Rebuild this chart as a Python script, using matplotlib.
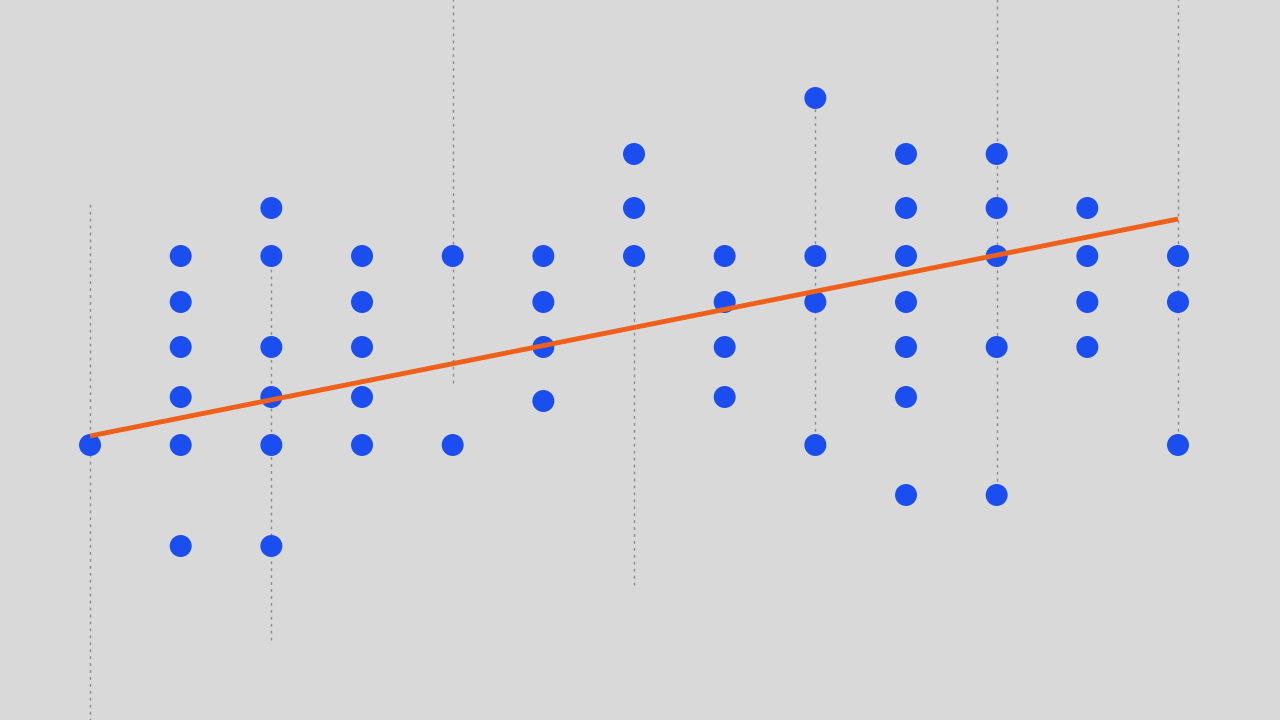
import matplotlib
matplotlib.use("Agg")
import matplotlib.pyplot as plt

# Точки по столбцам (значения читались с картинки)
columns = list(range(13))
values = [
    [0.0],
    [3.78, 2.86, 1.96, 0.96, 0.0, -2.02],
    [4.74, 3.78, 1.96, 0.96, 0.0, -2.02],
    [3.78, 2.86, 1.96, 0.96, 0.0],
    [3.78, 0.0],
    [3.78, 2.86, 1.96, 0.88],
    [5.82, 4.74, 3.78],
    [3.78, 2.86, 1.96, 0.96],
    [6.94, 3.78, 2.86, 0.0],
    [5.82, 4.74, 3.78, 2.86, 1.96, 0.96, -1.0],
    [5.82, 4.74, 3.78, 1.96, -1.0],
    [4.74, 3.78, 2.86, 1.96],
    [3.78, 2.86, 0.0],
]

# Пунктирные вертикальные отрезки
range_cols = [0, 2, 4, 6, 8, 10, 12]
range_low = [-6.0, -3.9, 1.24, -2.8, 0.0, -1.0, 0.0]
range_high = [4.84, 3.78, 9.5, 3.78, 6.94, 9.5, 9.5]

# Линия тренда
trend_x = [0, 12]
trend_y = [0.18, 4.52]

bg = "#d9d9d9"
fig = plt.figure(figsize=(12.8, 7.2), dpi=100, facecolor=bg)
ax = fig.add_axes([0, 0, 1, 1])
ax.set_facecolor(bg)

ax.vlines(range_cols, range_low, range_high, colors="#8a8a8a",
          linestyles=(0, (2, 3)), linewidth=1.0, zorder=1)

xs = [c for c, vals in zip(columns, values) for _ in vals]
ys = [v for vals in values for v in vals]
ax.scatter(xs, ys, s=250, color="#1a4ef0", edgecolors="none", zorder=2)

ax.plot(trend_x, trend_y, color="#f0601a", linewidth=3.5,
        solid_capstyle="butt", zorder=3)

ax.set_xlim(-0.993, 13.125)
ax.set_ylim(-5.5, 8.9)
ax.axis("off")

fig.savefig("out.png", dpi=100, facecolor=bg)
